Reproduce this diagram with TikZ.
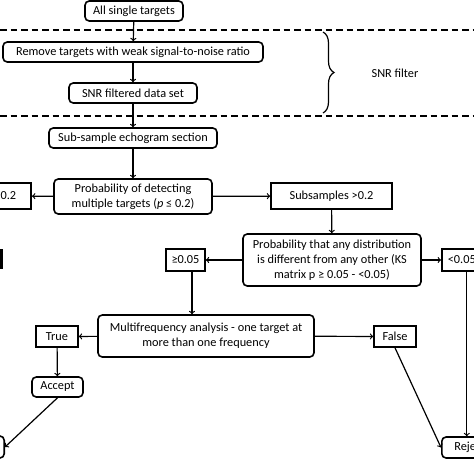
\documentclass[tikz,border=0pt]{standalone}
\usepackage{fontspec}
\setmainfont{Carlito}
\usetikzlibrary{arrows,positioning,decorations.pathreplacing}

\begin{document}
\begin{tikzpicture}[x=1pt, y=-1pt,
    rbox/.style={rectangle, draw=black, line width=1.6pt, rounded corners=1.5mm, fill=white,
        text centered, align=center, inner sep=2pt, font=\fontsize{12.3}{15}\selectfont},
    sbox/.style={rectangle, draw=black, line width=1.6pt, fill=white,
        text centered, align=center, inner sep=2pt, font=\fontsize{12.3}{15}\selectfont},
    link/.style={->, line width=1.2pt},
    cut/.style={dash pattern=on 6.5pt off 4pt, line width=1.1pt}
    ]
    \useasboundingbox (0,0) rectangle (474,474);

    % SNR filter stage
    \node (Start) [rbox, minimum width=98pt, minimum height=20pt] at (134,11) {All single targets};
    \node (Remove) [rbox, minimum width=260pt, minimum height=20pt] at (133,52) {Remove targets with weak signal-to-noise ratio};
    \node (Filtered) [rbox, minimum width=128pt, minimum height=20pt] at (133,93) {SNR filtered data set};
    \draw [cut] (0,30) -- (474,30);
    \draw [cut] (0,116) -- (474,116);
    \draw [decorate, decoration={brace, amplitude=11pt}, line width=1.2pt] (323,32) -- (323,113);
    \node (SnrLabel) [font=\fontsize{12.3}{15}\selectfont] at (395,73) {SNR filter};

    % sub-sampling
    \node (Section) [rbox, minimum width=168pt, minimum height=20pt] at (133,138) {Sub-sample echogram section};
    \node (Multiple) [rbox, minimum width=158pt, minimum height=35pt] at (133,196.5) {Probability of detecting\\multiple targets (\textit{p} ≤ 0.2)};
    \node (Low) [sbox, anchor=east, minimum height=26pt, text width=52pt, inner xsep=15pt, align=right] at (32,196) {≤0.2};
    \node (High) [sbox, minimum width=121pt, minimum height=26pt] at (331.5,196) {Subsamples >0.2};
    \node (Ks) [rbox, minimum width=178pt, minimum height=52pt] at (332,260) {Probability that any distribution\\is different from any other (KS\\matrix p ≥ 0.05 - <0.05)};
    \node (Ge) [sbox, minimum width=39pt, minimum height=22pt] at (185.5,260) {≥0.05};
    \node (Lt) [sbox, anchor=west, minimum width=40pt, minimum height=22pt, inner xsep=3pt] at (441,260) {<0.05};
    \fill (0,249) rectangle (3,269);

    % multifrequency check
    \node (Multi) [rbox, minimum width=216pt, minimum height=42pt] at (206,336) {Multifrequency analysis - one target at\\more than one frequency};
    \node (True) [sbox, minimum width=42pt, minimum height=21pt] at (57,336.5) {True};
    \node (False) [sbox, minimum width=42pt, minimum height=21pt] at (395,336.5) {False};
    \node (Accept) [rbox, minimum width=51pt, minimum height=20pt] at (57.5,387) {Accept};
    \node (Kept) [rbox, anchor=east, minimum width=50pt, minimum height=22pt] at (5,447) {};
    \node (Reject) [rbox, anchor=west, minimum width=56pt, minimum height=21pt] at (441,447.5) {Reject};

    \coordinate (GeFoot) at ([xshift=6.5pt]Ge.south);
    \coordinate (LtFoot) at ([xshift=5pt]Lt.south);

    \draw [link] (Start) -- (Remove);
    \draw [link] (Remove) -- (Filtered);
    \draw [link] (Filtered) -- (Section);
    \draw [link] (Section) -- (Multiple);
    \draw [link] (Multiple) -- (Low);
    \draw [link] (Multiple) -- (High);
    \draw [link] (High) -- (Ks);
    \draw [link] (Ks) -- (Ge);
    \draw [link] (Ks) -- (Lt);
    \draw [link] (GeFoot) -- (GeFoot |- Multi.north);
    \draw [link] (LtFoot) -- (LtFoot |- Reject.north);
    \draw [link] (Multi) -- (True);
    \draw [link] (Multi) -- (False);
    \draw [link] (True) -- (Accept);
    \draw [link] (Accept.south) -- (Kept.east);
    \draw [link] (False.south) -- (Reject.west);
\end{tikzpicture}
\end{document}
